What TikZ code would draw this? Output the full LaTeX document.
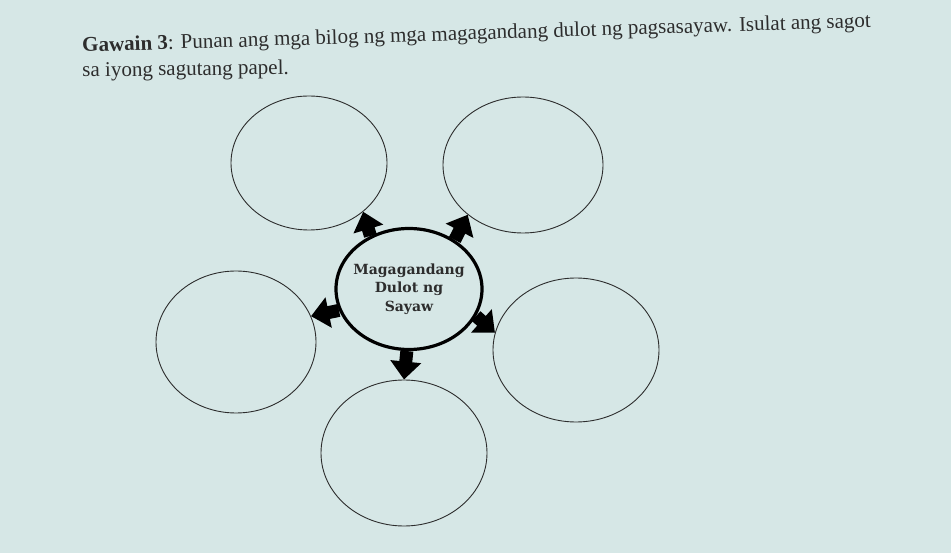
\documentclass[tikz,border=0pt]{standalone}
\usepackage{fontspec}
\setmainfont{Liberation Serif}
\newfontfamily\slabfont{DejaVu Serif}
\usetikzlibrary{shapes.geometric,arrows.meta}
\definecolor{papel}{RGB}{214,231,230}
\definecolor{tinta}{RGB}{45,45,45}

\begin{document}
\begin{tikzpicture}
        [x=1pt,y=-1pt,every node/.style={ellipse,draw=tinta,line width=.9pt}]
        \useasboundingbox (0,0) rectangle (951,553);
        \fill[papel] (0,0) rectangle (951,553);
        \node[minimum width=156pt,minimum height=134pt] (Isa) at (309,163) {};
        \node[minimum width=160pt,minimum height=136pt] (Dalawa) at (523,165) {};
        \node[minimum width=160pt,minimum height=142pt] (Tatlo) at (236,342) {};
        \node[minimum width=166pt,minimum height=144pt] (Apat) at (576,350) {};
        \node[minimum width=166pt,minimum height=146pt] (Lima) at (404,453) {};
        \node[draw=black,line width=3.2pt,minimum width=146pt,minimum height=121pt] (Sayaw) at (409,289) {};
        \node[draw=none,shape=rectangle,align=center,text=tinta,
              font=\slabfont\bfseries\fontsize{14}{18.5}\selectfont] (SayawText) at (Sayaw)
              {Magagandang\\Dulot ng\\Sayaw};
        \tikzset{ArrowStyle/.style = {draw=black,
                                  line width     = 13pt,
                                  -{Triangle[length=18pt,width=30pt]}}}
        \foreach \from/\to in {Sayaw.126/Isa.-42,Sayaw.47/Dalawa.222,Sayaw.197/Tatlo.19,
                               Sayaw.-22/Apat.168,Sayaw.-92/Lima.90}
            \draw[ArrowStyle] (\from) -- (\to);
        \tikzset{LineStyle/.style = {draw=none,
                                  shape          = rectangle,
                                  inner sep      = 0pt,
                                  anchor         = base west,
                                  rotate         = 1.8,
                                  text           = tinta,
                                  font           = \fontsize{21}{24}\selectfont}}
        \node[LineStyle] (Gawain) at (82,52)
              {\textbf{Gawain 3}: Punan ang mga bilog ng mga magagandang dulot ng pagsasayaw. Isulat ang sagot};
        \node[LineStyle,rotate=-1] (Papel) at (82,77) {sa iyong sagutang papel.};
\end{tikzpicture}
\end{document}
